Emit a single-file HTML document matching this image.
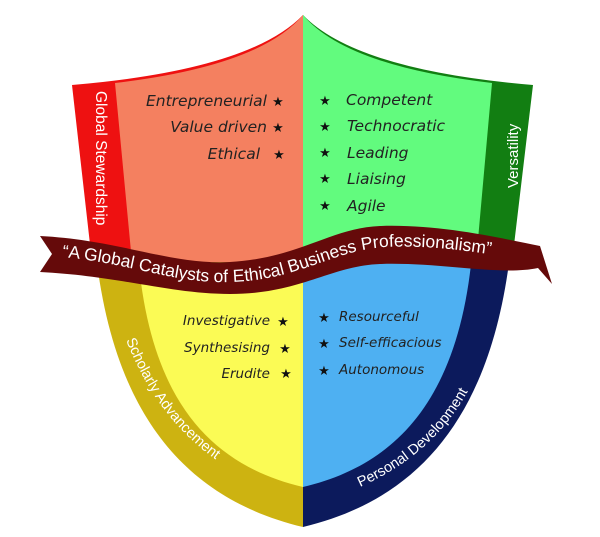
<!DOCTYPE html>
<html><head><meta charset="utf-8"><style>
html,body{margin:0;padding:0;background:#fff;}
svg{display:block;}
.h{font-family:"DejaVu Sans","Liberation Sans",sans-serif;font-style:italic;fill:#222;}
.w{font-family:"Liberation Sans",sans-serif;fill:#fff;}
</style></head><body>
<svg width="600" height="537" viewBox="0 0 600 537" xmlns="http://www.w3.org/2000/svg">
<defs>
<path id="rib" d="M62,257 C130,263 175,284 230,282 C300,280 330,251 385,247 C440,244 500,256 545,263"/>
<path id="sa" d="M126,340 C150,400 185,445 245,478"/>
<path id="pd" d="M360,487 C420,460 460,420 484,356"/>
</defs>
<!-- bottom shield -->
<path d="M96,255 L303,255 L303,527 C190,500 115,420 96,255 Z" fill="#cdb311"/>
<path d="M510,255 L303,255 L303,527 C416,500 490,420 510,255 Z" fill="#0c1a5c"/>
<path d="M138,255 L303,255 L303,487 C210,465 150,400 138,255 Z" fill="#fbfb55"/>
<path d="M472,255 L303,255 L303,487 C396,465 458,400 472,255 Z" fill="#4eb0f2"/>
<!-- top bands -->
<path d="M72,85 Q250,70 303,15 L303,262 L92,262 Z" fill="#ee1111"/>
<path d="M115,83 Q260,66 303,15 L303,262 L132,262 Z" fill="#f48060"/>
<path d="M533,85 Q356,70 303,15 L303,262 L512,262 Z" fill="#127e12"/>
<path d="M492,83 Q346,66 303,15 L303,262 L476,262 Z" fill="#62fb7e"/>
<!-- band labels -->
<text class="w" font-size="15.5" transform="translate(96,91) rotate(90)">Global Stewardship</text>
<text class="w" font-size="15" transform="translate(518,188) rotate(-90)">Versatility</text>
<text class="w" font-size="14.5"><textPath href="#sa">Scholarly Advancement</textPath></text>
<text class="w" font-size="14.5"><textPath href="#pd">Personal Development</textPath></text>
<!-- ribbon -->
<path d="M40,236 C120,240 170,265 230,262 C300,258 330,228 380,226 C440,224 500,238 540,246 L552,284 L538,268 C500,276 440,262 380,264 C330,266 300,294 230,294 C170,294 120,276 40,272 L52,254 Z" fill="#650a0a"/>
<text class="w" font-size="17.5"><textPath href="#rib">“A Global Catalysts of Ethical Business Professionalism”</textPath></text>
<!-- top text -->
<g class="h" font-size="15.5">
<text x="267" y="106" text-anchor="end">Entrepreneurial</text>
<text x="267" y="132" text-anchor="end">Value driven</text>
<text x="260" y="159" text-anchor="end">Ethical</text>
<text x="346" y="105">Competent</text>
<text x="347" y="131">Technocratic</text>
<text x="347" y="158">Leading</text>
<text x="347" y="184">Liaising</text>
<text x="347" y="211">Agile</text>
</g>
<g font-size="13" fill="#111" font-family="DejaVu Sans,sans-serif">
<text x="278" y="106" text-anchor="middle">★</text>
<text x="278" y="132" text-anchor="middle">★</text>
<text x="279" y="159" text-anchor="middle">★</text>
<text x="325" y="105" text-anchor="middle">★</text>
<text x="325" y="131" text-anchor="middle">★</text>
<text x="325" y="157" text-anchor="middle">★</text>
<text x="325" y="183" text-anchor="middle">★</text>
<text x="325" y="210" text-anchor="middle">★</text>
<text x="283" y="326" text-anchor="middle">★</text>
<text x="285" y="353" text-anchor="middle">★</text>
<text x="286" y="378" text-anchor="middle">★</text>
<text x="324" y="322" text-anchor="middle">★</text>
<text x="324" y="348" text-anchor="middle">★</text>
<text x="324" y="375" text-anchor="middle">★</text>
</g>
<g class="h" font-size="13.5">
<text x="270" y="325" text-anchor="end">Investigative</text>
<text x="270" y="352" text-anchor="end">Synthesising</text>
<text x="270" y="378" text-anchor="end">Erudite</text>
<text x="339" y="321">Resourceful</text>
<text x="339" y="347">Self-efficacious</text>
<text x="339" y="374">Autonomous</text>
</g>
</svg>
</body></html>
